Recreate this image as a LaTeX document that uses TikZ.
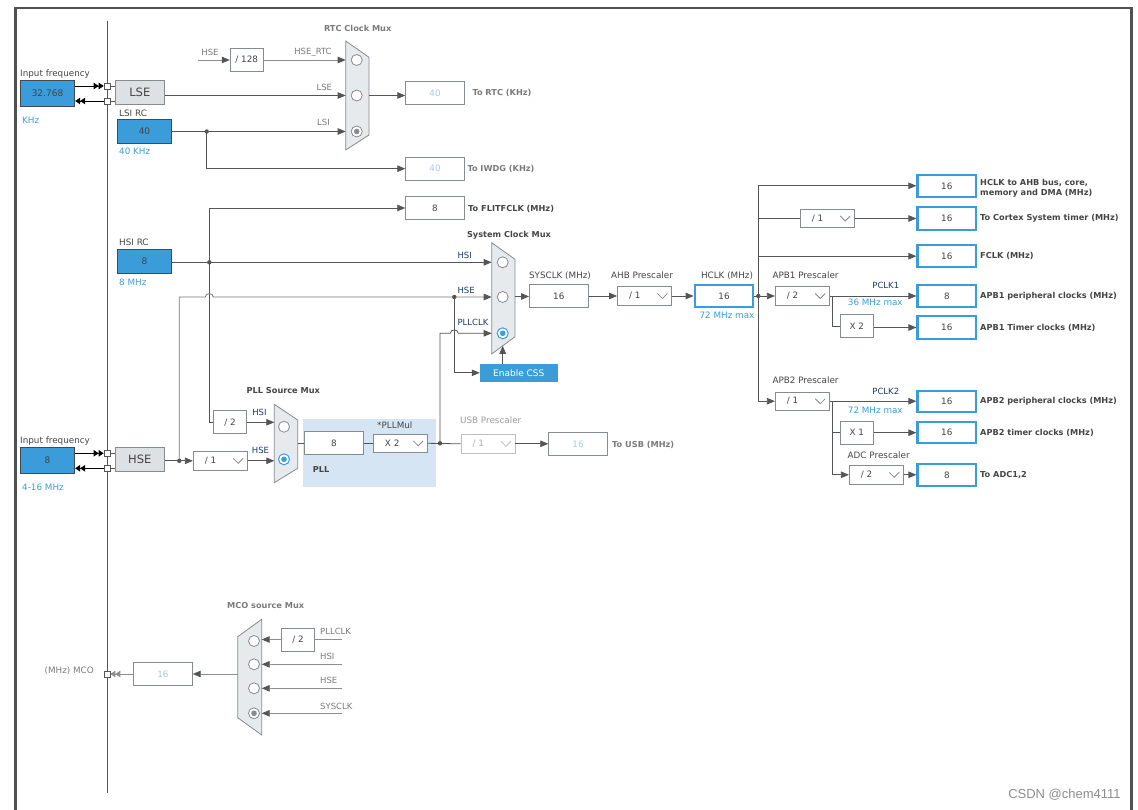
\documentclass[tikz,border=0pt]{standalone}
\usepackage{fontspec}
\setmainfont{DejaVu Sans}
\newfontfamily\wmfont{Liberation Sans}
\usetikzlibrary{arrows.meta,positioning}

\definecolor{linec}{HTML}{555555}
\definecolor{midc}{HTML}{777777}
\definecolor{dimc}{HTML}{8E8E8E}
\definecolor{framec}{HTML}{505050}
\definecolor{cubeblue}{HTML}{3A9DDA}
\definecolor{inborder}{HTML}{3E4A55}
\definecolor{boxc}{HTML}{868B90}
\definecolor{muxfill}{HTML}{E6EAED}
\definecolor{oscfill}{HTML}{DDE1E4}
\definecolor{pllfill}{HTML}{D5E5F3}
\definecolor{navy}{HTML}{1E3A63}
\definecolor{txtc}{HTML}{444444}
\definecolor{greytxt}{HTML}{7A7A7A}
\definecolor{offval}{HTML}{A9C9E6}

\tikzset{
  wire/.style={draw=linec, line width=0.8pt},
  dimwire/.style={draw=dimc, line width=0.8pt},
  tip/.style={-{Triangle[length=8pt,width=6.5pt]}},
  dimtip/.style={-{Triangle[length=8pt,width=6.5pt,color=linec]}},
  dbltip/.style={-{Triangle[length=5pt,width=6.5pt]Triangle[length=5pt,width=6.5pt]}},
  lbl/.style={font=\fontsize{8.8}{10}\selectfont, text=txtc, inner sep=0pt},
  blbl/.style={font=\fontsize{8.2}{10}\selectfont\bfseries, text=txtc, inner sep=0pt},
  slbl/.style={font=\fontsize{8.5}{10}\selectfont, text=greytxt, inner sep=0pt},
  sig/.style={font=\fontsize{8.5}{10}\selectfont, text=navy, inner sep=0pt},
  valbox/.style={draw=boxc, fill=white, line width=0.8pt, minimum width=58.6pt,
    minimum height=23pt, inner sep=0pt, font=\fontsize{8.8}{10}\selectfont, text=txtc},
  outbox/.style={valbox, draw=cubeblue, line width=2.2pt, minimum height=21.7pt},
  offbox/.style={valbox, text=offval},
  divbox/.style={valbox, minimum width=33pt},
  inbox/.style={fill=cubeblue, draw=inborder, line width=0.9pt, minimum width=54.4pt,
    minimum height=24.4pt, inner sep=0pt, font=\fontsize{9}{10}\selectfont, text=txtc},
  oscbox/.style={fill=oscfill, draw=boxc, line width=0.8pt, minimum width=49pt,
    minimum height=23.7pt, inner sep=0pt, font=\fontsize{11.5}{12}\selectfont, text=txtc},
  ddbox/.style={draw=boxc, fill=white, line width=0.8pt, minimum width=54pt,
    minimum height=18.6pt, text width=31pt, align=left, inner xsep=11pt, inner ysep=0pt,
    font=\fontsize{8.8}{10}\selectfont, text=txtc},
  pin/.style={draw=linec, fill=white, line width=0.7pt, minimum size=6pt, inner sep=0pt},
  radio/.style={circle, draw=boxc, fill=white, line width=0.8pt, minimum size=11pt, inner sep=0pt},
  cssbox/.style={fill=cubeblue, minimum width=77.7pt, minimum height=17.7pt, inner sep=0pt,
    font=\fontsize{9}{10}\selectfont, text=white},
  mux/.style={fill=muxfill, draw=boxc, line width=0.8pt}
}
\newcommand{\chevron}[2][boxc]{\draw[#1, line width=0.8pt]
  ([xshift=-14.5pt,yshift=2.5pt]#2.east) -- ++(5,5) -- ++(5,-5);}
\newcommand{\seldot}[2][boxc]{\fill[#1] (#2) circle (2.8pt);}

\begin{document}
\begin{tikzpicture}[x=1pt,y=-1pt]
\useasboundingbox (0,0) rectangle (1138,810);
\draw[framec, line width=2.6pt] (15.3,815) -- (15.3,8) -- (1131.7,8) -- (1131.7,815);
\draw[wire] (107,21) -- (107,793);

% LSE
\node[lbl, anchor=west] (lsefreqlbl) at (20,74) {Input frequency};
\node[inbox, minimum height=26pt] (lsefreq) at (47.5,93) {32.768};
\node[lbl, text=cubeblue, anchor=west] (lseunit) at (22,120) {KHz};
\node[pin] (lsepa) at (107,86) {};
\node[pin] (lsepb) at (107,101) {};
\node[oscbox] (lse) at (139.8,92.2) {LSE};
\draw[line width=0.8pt, dbltip] (lsefreq.east|-lsepa) -- (lsepa.west);
\draw[line width=0.8pt, dbltip] (lsepb.west) -- (lsefreq.east|-lsepb);
\draw[wire] (lsepa.east) -- (lse.west|-lsepa);
\draw[wire] (lsepb.east) -- (lse.west|-lsepb);

% RTC clock mux
\node[blbl, text=greytxt] (rtcmuxlbl) at (357.7,28.7) {RTC Clock Mux};
\filldraw[mux] (345.7,41) -- (369,57.3) -- (369,135) -- (345.7,150) -- cycle;
\coordinate (rtcin1) at (345.7,60);
\coordinate (rtcin2) at (345.7,95.5);
\coordinate (rtcin3) at (345.7,131.5);
\coordinate (rtcout) at (369,95.5);
\node[radio] (rtcr1) at (356.7,60) {};
\node[radio] (rtcr2) at (356.7,95.5) {};
\node[radio] (rtcr3) at (356.7,131.5) {};
\seldot{rtcr3}

\coordinate (hsesrc) at (198,60);
\node[slbl] (hsertcin) at (210,52) {HSE};
\node[divbox] (div128) at (246.7,59.5) {/ 128};
\draw[dimwire, dimtip] (hsesrc) -- (div128.west|-hsesrc);
\draw[dimwire, dimtip] (div128.east|-rtcin1) -- (rtcin1);
\node[slbl] (hsertcname) at (313,52) {HSE\_RTC};
\draw[wire, tip] (lse.east|-rtcin2) -- (rtcin2);
\node[slbl] (lsename) at (324.3,87.3) {LSE};
\node[slbl] (lsiname) at (323.5,122.7) {LSI};

\node[offbox] (rtcval) at (435,92.8) {40};
\draw[wire, tip] (rtcout) -- (rtcval.west|-rtcout);
\node[blbl, text=greytxt, anchor=west] (rtclbl) at (472.3,92.7) {To RTC (KHz)};

% LSI
\node[lbl, anchor=west] (lsilbl) at (119,113) {LSI RC};
\node[inbox] (lsi) at (144.5,131.5) {40};
\node[lbl, text=cubeblue, anchor=west] (lsiunit) at (119,151) {40 KHz};
\coordinate (lsidot) at (206.7,131.5);
\draw[wire, tip] (lsi.east) -- (rtcin3);
\node[offbox] (iwdg) at (435,168.7) {40};
\draw[wire, tip] (lsidot) |- (iwdg.west);
\fill[linec] (lsidot) circle (2.2pt);
\node[blbl, text=greytxt, anchor=west] (iwdglbl) at (467.3,168.7) {To IWDG (KHz)};

% HSI
\node[lbl, anchor=west] (hsilbl) at (119,242.7) {HSI RC};
\node[inbox] (hsi) at (144.5,261.3) {8};
\node[lbl, text=cubeblue, anchor=west] (hsiunit) at (119,282.3) {8 MHz};
\coordinate (hsidot) at (209.3,262.3);
\coordinate (sysin1) at (491.7,262.3);
\coordinate (sysin2) at (491.7,297);
\coordinate (sysin3) at (491.7,333.3);
\node[valbox] (flit) at (435,208) {8};
\node[blbl, anchor=west] (flitlbl) at (468,209) {To FLITFCLK (MHz)};
\draw[wire, tip] (hsidot) |- (flit.west);
\draw[wire, tip] (hsi.east|-sysin1) -- (sysin1);
\node[divbox] (hsidiv) at (230,422.3) {/ 2};
\draw[wire] (hsidot) |- (hsidiv.west);
\fill[linec] (hsidot) circle (2.2pt);

% HSE
\node[lbl, anchor=west] (hsefreqlbl) at (20,440.7) {Input frequency};
\node[inbox, minimum height=26.7pt] (hsefreq) at (47.5,460.3) {8};
\node[lbl, text=cubeblue, anchor=west] (hseunit) at (22,487.3) {4-16 MHz};
\node[pin] (hsepa) at (107,453.3) {};
\node[pin] (hsepb) at (107,468.3) {};
\node[oscbox] (hse) at (139.8,459.2) {HSE};
\draw[line width=0.8pt, dbltip] (hsefreq.east|-hsepa) -- (hsepa.west);
\draw[line width=0.8pt, dbltip] (hsepb.west) -- (hsefreq.east|-hsepb);
\draw[wire] (hsepa.east) -- (hse.west|-hsepa);
\draw[wire] (hsepb.east) -- (hse.west|-hsepb);
\node[ddbox] (hsediv) at (220.3,460.8) {/ 1};
\chevron{hsediv}
\coordinate (hsedot) at (179.3,460.8);
\draw[wire, tip] (hse.east|-hsediv) -- (hsediv.west);
\draw[wire, draw=midc, dimtip] (hsedot) -- (179.3,297) -- (205.3,297)
  .. controls (205.3,292.5) and (213.3,292.5) .. (213.3,297) -- (sysin2);
\fill[linec] (hsedot) circle (2.2pt);

% PLL source mux and PLL
\fill[pllfill] (303.3,419) rectangle (435.7,486.7);
\node[blbl] (pllsrclbl) at (283.3,390.7) {PLL Source Mux};
\filldraw[mux] (274.3,404.3) -- (297.7,420) -- (297.7,468.3) -- (274.3,482.7) -- cycle;
\coordinate (pllin1) at (274.3,422.3);
\coordinate (pllin2) at (274.3,460.8);
\coordinate (pllsrcout) at (297.7,443.3);
\node[radio] (pllr1) at (284,426.7) {};
\node[radio, draw=cubeblue, line width=1pt] (pllr2) at (284,459.3) {};
\seldot[cubeblue]{pllr2}
\draw[wire, tip] (hsidiv.east) -- (pllin1);
\draw[wire, tip] (hsediv.east) -- (pllin2);
\node[sig] (pllhsi) at (259.5,412.7) {HSI};
\node[sig] (pllhse) at (260.5,450.3) {HSE};
\node[valbox] (pllin) at (333.8,443.3) {8};
\draw[wire] (pllsrcout) -- (pllin.west);
\node[ddbox] (pllmul) at (400.3,443.3) {X 2};
\chevron{pllmul}
\node[lbl] (pllmullbl) at (394.8,425.7) {*PLLMul};
\draw[wire] (pllin.east) -- (pllmul.west);
\node[blbl] (plllbl) at (321,469.3) {PLL};

% USB
\coordinate (plldot) at (440,443.3);
\node[ddbox, draw=boxc!55, text=greytxt!60] (usbdiv) at (488,443.8) {/ 1};
\chevron[boxc!55]{usbdiv}
\draw[wire] (pllmul.east) -- (usbdiv.west);
\fill[linec] (plldot) circle (2.2pt);
\node[lbl, text=greytxt!75] (usblbl) at (490.7,420.7) {USB Prescaler};
\node[offbox] (usbval) at (578,443.8) {16};
\draw[wire, tip] (usbdiv.east) -- (usbval.west);
\node[blbl, text=greytxt, anchor=west] (usboutlbl) at (612,445) {To USB (MHz)};

% system clock mux
\node[blbl] (sysmuxlbl) at (509,235.7) {System Clock Mux};
\filldraw[mux] (491.7,242.7) -- (515,259.3) -- (515,336.7) -- (491.7,354) -- cycle;
\node[radio] (sysr1) at (502.7,262.3) {};
\node[radio] (sysr2) at (502.7,297) {};
\node[radio, draw=cubeblue, line width=1pt] (sysr3) at (502.7,333.3) {};
\seldot[cubeblue]{sysr3}
\node[sig, anchor=west] (syshsi) at (457.3,255.7) {HSI};
\node[sig, anchor=west] (syshse) at (457.3,290) {HSE};
\node[sig, anchor=west] (syspll) at (457.3,322.7) {PLLCLK};
\draw[wire, tip] (plldot) -- (440,333.3) -- (450.3,333.3)
  .. controls (450.3,328.8) and (458.3,328.8) .. (458.3,333.3) -- (sysin3);
\coordinate (cssdot) at (454.3,297);
\node[cssbox] (css) at (518.8,372.8) {Enable CSS};
\draw[wire, tip] (cssdot) |- (css.west);
\fill[linec] (cssdot) circle (2.2pt);
\draw[wire, tip] (css.north-|sysr3) -- (502.7,345.8);

% SYSCLK, AHB, HCLK
\coordinate (sysout) at (515,296.5);
\node[valbox] (sysclk) at (558.8,296) {16};
\node[lbl] (sysclklbl) at (560,275.7) {SYSCLK (MHz)};
\draw[wire, tip] (sysout) -- (sysclk.west|-sysout);
\node[ddbox] (ahb) at (644.5,296) {/ 1};
\chevron{ahb}
\node[lbl] (ahblbl) at (642,275.7) {AHB Prescaler};
\draw[wire, tip] (sysclk.east) -- (ahb.west);
\node[outbox] (hclk) at (724,296) {16};
\node[lbl] (hclklbl) at (727,275.7) {HCLK (MHz)};
\node[lbl, text=cubeblue] (hclkmax) at (727,315.7) {72 MHz max};
\draw[wire, tip] (ahb.east) -- (hclk.west);

% outputs
\node[outbox] (ahbo) at (946.8,185.8) {16};
\node[outbox, minimum height=22.3pt] (cortexo) at (946.8,218.5) {16};
\node[outbox, minimum height=22.3pt] (fclko) at (946.8,256.2) {16};
\node[outbox, minimum height=21.3pt] (apb1o) at (946.8,296) {8};
\node[outbox, minimum height=22.3pt] (apb1t) at (946.8,327.5) {16};
\node[outbox, minimum height=21pt] (apb2o) at (946.8,401.2) {16};
\node[outbox, minimum height=21.3pt] (apb2t) at (946.8,432.7) {16};
\node[outbox] (adco) at (946.8,474.8) {8};
\node[blbl, anchor=west, align=left] (ahbolbl) at (980,188.3) {HCLK to AHB bus, core,\\memory and DMA (MHz)};
\node[blbl, anchor=west] (cortexlbl) at (980,218.5) {To Cortex System timer (MHz)};
\node[blbl, anchor=west] (fclklbl) at (980,256.2) {FCLK (MHz)};
\node[blbl, anchor=west] (apb1olbl) at (980,296) {APB1 peripheral clocks (MHz)};
\node[blbl, anchor=west] (apb1tlbl) at (980,327.5) {APB1 Timer clocks (MHz)};
\node[blbl, anchor=west] (apb2olbl) at (980,401.2) {APB2 peripheral clocks (MHz)};
\node[blbl, anchor=west] (apb2tlbl) at (980,432.7) {APB2 timer clocks (MHz)};
\node[blbl, anchor=west] (adclbl) at (980,474.8) {To ADC1,2};

% HCLK bus
\coordinate (hclkdot) at (758.3,296);
\node[ddbox] (apb1) at (802.3,296) {/ 2};
\chevron{apb1}
\node[ddbox] (apb2) at (802.3,401.2) {/ 1};
\chevron{apb2}
\node[ddbox] (cortexdiv) at (827.3,218.5) {/ 1};
\chevron{cortexdiv}
\draw[wire, tip] (hclk.east) -- (apb1.west);
\draw[wire, tip] (hclkdot) |- (ahbo.west);
\draw[wire, tip] (hclkdot) |- (apb2.west);
\draw[wire] (hclkdot|-cortexdiv) -- (cortexdiv.west);
\draw[wire, tip] (cortexdiv.east) -- (cortexo.west);
\draw[wire, tip] (hclkdot|-fclko) -- (fclko.west);
\fill[linec] (hclkdot) circle (2.2pt);

% APB1
\node[lbl, anchor=west] (apb1lbl) at (772.3,275.7) {APB1 Prescaler};
\coordinate (apb1tap) at (832.3,296);
\draw[wire, tip] (apb1.east) -- (apb1o.west);
\node[sig] (pclk1) at (885.8,285.7) {PCLK1};
\node[lbl, text=cubeblue] (pclk1max) at (875.3,302.7) {36 MHz max};
\node[divbox] (apb1x) at (856.8,326) {X 2};
\draw[wire] (apb1tap) |- (apb1x.west);
\draw[wire, tip] (apb1x.east|-apb1t) -- (apb1t.west);

% APB2
\node[lbl, anchor=west] (apb2lbl) at (772.3,380.7) {APB2 Prescaler};
\coordinate (apb2tap) at (832.3,401.2);
\draw[wire, tip] (apb2.east) -- (apb2o.west);
\node[sig] (pclk2) at (885.8,391.7) {PCLK2};
\node[lbl, text=cubeblue] (pclk2max) at (875.3,410) {72 MHz max};
\node[divbox] (apb2x) at (856.8,432.7) {X 1};
\draw[wire] (apb2tap) |- (apb2x.west);
\draw[wire, tip] (apb2x.east) -- (apb2t.west);
\node[lbl] (adcdivlbl) at (878.7,455.7) {ADC Prescaler};
\node[ddbox] (adcdiv) at (876.3,474.8) {/ 2};
\chevron{adcdiv}
\draw[wire, tip] (apb2tap) |- (adcdiv.west);
\draw[wire, tip] (adcdiv.east) -- (adco.west);

% MCO
\node[blbl, text=greytxt] (mcomuxlbl) at (265.7,605.7) {MCO source Mux};
\filldraw[mux] (261.7,619.3) -- (261.7,735) -- (237.7,717.7) -- (237.7,636.7) -- cycle;
\node[radio] (mcor1) at (254,641) {};
\node[radio] (mcor2) at (254,664.3) {};
\node[radio] (mcor3) at (254,688.3) {};
\node[radio] (mcor4) at (254,713.3) {};
\seldot{mcor4}
\node[divbox] (mcodiv) at (298,639.5) {/ 2};
\coordinate (mcosrc1) at (342.3,639.5);
\coordinate (mcosrc2) at (342.3,664.3);
\coordinate (mcosrc3) at (342.3,688.3);
\coordinate (mcosrc4) at (342.3,713.3);
\draw[dimwire] (mcosrc1) -- (mcodiv.east);
\draw[dimwire, dimtip] (mcodiv.west) -- (261.7,639.5);
\draw[dimwire, dimtip] (mcosrc2) -- (261.7,664.3);
\draw[dimwire, dimtip] (mcosrc3) -- (261.7,688.3);
\draw[dimwire, dimtip] (mcosrc4) -- (261.7,713.3);
\node[slbl, anchor=west] (mcopll) at (320,631.7) {PLLCLK};
\node[slbl, anchor=west] (mcohsi) at (320,656) {HSI};
\node[slbl, anchor=west] (mcohse) at (320,680) {HSE};
\node[slbl, anchor=west] (mcosys) at (320,706) {SYSCLK};
\coordinate (mcoout) at (237.7,674);
\node[offbox] (mcoval) at (163,674) {16};
\draw[dimwire, dimtip] (mcoout) -- (mcoval.east);
\node[pin] (mcopin) at (107,674) {};
\draw[dimwire, dbltip] (mcoval.west) -- (mcopin.east);
\node[lbl, text=greytxt] (mcolbl) at (69.2,671) {(MHz) MCO};

\node[text=black!45, inner sep=0pt, font=\wmfont\fontsize{13}{14}\selectfont] (wmark) at (1064.5,795) {CSDN @chem4111};
\end{tikzpicture}
\end{document}
